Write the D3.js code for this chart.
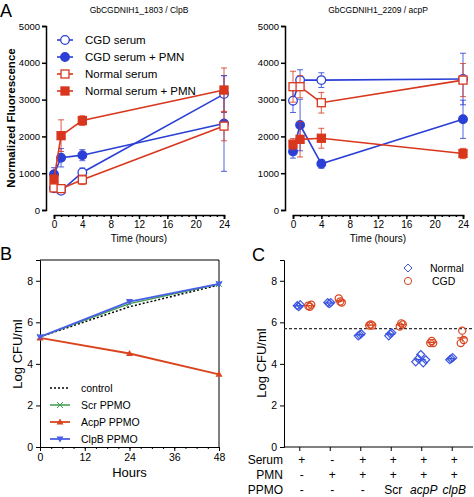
<!DOCTYPE html><html><head><meta charset="utf-8"><script src="https://cdn.jsdelivr.net/npm/d3@7"></script>
<style>body{margin:0;background:#fff}text{font-family:"Liberation Sans",Arial,sans-serif}</style></head><body>
<script>
const times=[0,1,4,24];
const aSeries=["CGD serum","CGD serum + PMN","Normal serum","Normal serum + PMN"];
const aLeft=[[590,520,1020,3150],[970,1420,1490,2350],[600,580,820,2280],[840,2020,2430,3260]];
const aLeftErr=[[80,60,120,500],[180,250,150,1300],[60,60,130,400],[100,430,130,600]];
const aRight=[[2970,3530,3530,3560],[1590,2310,1255,2465],[3350,3350,2915,3530],[1790,1920,1950,1535]];
const aRightErr=[[320,280,200,700],[180,700,120,520],[420,300,280,450],[150,480,270,140]];
const bHours=[0,24,48];
const bSeries=["control","Scr PPMO","AcpP PPMO","ClpB PPMO"];
const bValues=[[5.3,6.75,7.8],[5.3,6.9,7.85],[5.25,4.5,3.5],[5.3,7.0,7.85]];
const cGroups=["g1","g2","g3","g4","g5","g6"];
const cNormal=[[6.8,6.75,6.85],[6.95,6.9,6.95],[5.35,5.4,5.45],[5.35,5.45,5.5],[4.1,4.25,4.45,4.05,4.2],[4.2,4.25,4.3]];
const cCGD=[[6.8,6.75,6.85],[7.15,7.0,6.95],[5.85,5.9,5.85],[5.8,5.95,5.9],[5.0,5.1,5.0],[5.0,5.6,5.15]];
const cSerum=["+","-","+","+","+","+"],cPMN=["-","+","+","+","+","+"],cPPMO=["-","-","-","Scr","acpP","clpB"];
const cThreshold=5.7;

const svg=d3.select("body").append("svg").attr("width",474).attr("height",497);
const BLUE="#2a3fd6",RED="#d9361e";
const colA=[BLUE,BLUE,RED,RED],fillA=["#fff",BLUE,"#fff",RED],shapeA=["c","c","s","s"];

function panelA(x0,data,err,title,withLegend){
  const x=d3.scaleLinear().domain([0,24]).range([x0+8,x0+178]);
  const y=d3.scaleLinear().domain([0,5000]).range([210,26]);
  const g=svg.append("g");
  g.append("g").attr("transform",`translate(${x0},0)`).call(d3.axisLeft(y).tickValues([0,1000,2000,3000,4000,5000]).tickFormat(d3.format("d")).tickSize(4).tickPadding(2))
   .call(a=>a.selectAll("text").attr("font-size",9.5));
  g.append("g").attr("transform",`translate(0,215)`).call(d3.axisBottom(x).tickValues(d3.range(0,25,4)).tickSize(4).tickPadding(2))
   .call(a=>a.selectAll("text").attr("font-size",10));
  g.append("g").attr("transform",`translate(0,215)`).call(d3.axisBottom(x).tickValues(d3.range(0,25,1)).tickSize(2).tickFormat(""))
   .call(a=>a.select(".domain").remove());
  g.selectAll(".domain,.tick line").attr("stroke","#000").attr("stroke-width",1.5);
  g.append("text").attr("x",x(12)).attr("y",242).attr("text-anchor","middle").attr("font-size",10).text("Time (hours)");
  g.append("text").attr("x",x0+93).attr("y",13).attr("text-anchor","middle").attr("font-size",8.5).text(title);
  data.forEach((s,i)=>{
    const line=d3.line().x((d,j)=>x(times[j])).y(d=>y(d));
    s.forEach((v,j)=>{g.append("line").attr("x1",x(times[j])).attr("x2",x(times[j])).attr("y1",y(v-err[i][j])).attr("y2",y(v+err[i][j])).attr("stroke",colA[i]).attr("stroke-width",1).attr("opacity",.8);
      [v-err[i][j],v+err[i][j]].forEach(e=>g.append("line").attr("x1",x(times[j])-3).attr("x2",x(times[j])+3).attr("y1",y(e)).attr("y2",y(e)).attr("stroke",colA[i]).attr("opacity",.8));});
    g.append("path").attr("d",line(s)).attr("fill","none").attr("stroke",colA[i]).attr("stroke-width",1.6);
    s.forEach((v,j)=>marker(g,shapeA[i],x(times[j]),y(v),colA[i],fillA[i]));
  });
  if(withLegend){aSeries.forEach((n,i)=>{const yy=40+i*17;
    g.append("line").attr("x1",57).attr("x2",73).attr("y1",yy).attr("y2",yy).attr("stroke",colA[i]).attr("stroke-width",1.6);
    marker(g,shapeA[i],65,yy,colA[i],fillA[i]);
    g.append("text").attr("x",85).attr("y",yy+4).attr("font-size",11.5).text(n);});}
}
function marker(g,sh,cx,cy,c,f){
  if(sh=="c")g.append("circle").attr("cx",cx).attr("cy",cy).attr("r",4.3).attr("fill",f).attr("stroke",c).attr("stroke-width",1.3);
  else g.append("rect").attr("x",cx-4).attr("y",cy-4).attr("width",8).attr("height",8).attr("fill",f).attr("stroke",c).attr("stroke-width",1.3);
}
panelA(46,aLeft,aLeftErr,"GbCGDNIH1_1803 / ClpB",true);
panelA(285,aRight,aRightErr,"GbCGDNIH1_2209 / acpP",false);
svg.append("text").attr("x",0).attr("y",17).attr("font-size",18).text("A");
svg.append("text").attr("transform","translate(15,118) rotate(-90)").attr("text-anchor","middle").attr("font-size",11.5).attr("font-weight","bold").text("Normalized Fluorescence");

// B
{
  const x=d3.scaleLinear().domain([0,48]).range([40,219]);
  const y=d3.scaleLinear().domain([0,9]).range([447,260]);
  const g=svg.append("g");
  g.append("g").attr("transform","translate(40,0)").call(d3.axisLeft(y).tickValues([0,2,4,6,8]).tickSize(4)).call(a=>a.selectAll("text").attr("font-size",10.5));
  g.append("g").attr("transform","translate(0,447)").call(d3.axisBottom(x).tickValues([0,12,24,36,48]).tickSize(4)).call(a=>a.selectAll("text").attr("font-size",10.5));
  g.append("g").attr("transform","translate(0,447)").call(d3.axisBottom(x).tickValues(d3.range(0,49,3)).tickSize(2).tickFormat("")).call(a=>a.select(".domain").remove());
  g.append("line").attr("x1",219).attr("x2",219).attr("y1",447).attr("y2",260).attr("stroke","#000");
  g.append("line").attr("x1",40).attr("x2",219).attr("y1",260).attr("y2",260).attr("stroke","#000");
  g.selectAll(".domain,.tick line").attr("stroke","#000");
  const cols=["#000","#3a9a4a","#d9441e","#4a5fe8"],dash=["2,2",null,null,null],sw=[1.5,1.5,1.8,1.8];
  bValues.forEach((s,i)=>{
    g.append("path").attr("d",d3.line().x((d,j)=>x(bHours[j])).y(d=>y(d))(s)).attr("fill","none").attr("stroke",cols[i]).attr("stroke-width",sw[i]).attr("stroke-dasharray",dash[i]);
    s.forEach((v,j)=>bMark(g,i,x(bHours[j]),y(v),cols[i]));
  });
  function bMark(g,i,cx,cy,c){
    if(i==1)g.append("path").attr("d",`M${cx-3},${cy-3}L${cx+3},${cy+3}M${cx-3},${cy+3}L${cx+3},${cy-3}`).attr("stroke",c);
    if(i==2)g.append("path").attr("d",`M${cx},${cy-3.5}L${cx+3.5},${cy+2.5}L${cx-3.5},${cy+2.5}Z`).attr("fill",c);
    if(i==3)g.append("path").attr("d",`M${cx},${cy+3.5}L${cx+3.5},${cy-2.5}L${cx-3.5},${cy-2.5}Z`).attr("fill",c);
  }
  bSeries.forEach((n,i)=>{const yy=388+i*17;
    g.append("line").attr("x1",50).attr("x2",70).attr("y1",yy).attr("y2",yy).attr("stroke",cols[i]).attr("stroke-width",sw[i]).attr("stroke-dasharray",dash[i]);
    bMark(g,i,60,yy,cols[i]);
    g.append("text").attr("x",81).attr("y",yy+4).attr("font-size",10.5).text(n);});
  svg.append("text").attr("x",x(24)).attr("y",477).attr("text-anchor","middle").attr("font-size",13).text("Hours");
  svg.append("text").attr("transform","translate(22,354) rotate(-90)").attr("text-anchor","middle").attr("font-size",13).text("Log CFU/ml");
  svg.append("text").attr("x",0).attr("y",260).attr("font-size",18).text("B");
}
// C
{
  const xb=d3.scaleBand().domain(cGroups).range([287,473]).paddingOuter(0.05);
  const y=d3.scaleLinear().domain([0,9]).range([447,260]);
  const g=svg.append("g");
  g.append("g").attr("transform","translate(284,0)").call(d3.axisLeft(y).tickValues([0,2,4,6,8]).tickSize(4)).call(a=>a.selectAll("text").attr("font-size",10.5));
  g.append("line").attr("x1",284).attr("x2",473).attr("y1",447).attr("y2",447).attr("stroke","#000");
  cGroups.forEach(k=>g.append("line").attr("x1",xb(k)+xb.bandwidth()/2-4).attr("x2",xb(k)+xb.bandwidth()/2-4).attr("y1",447).attr("y2",451).attr("stroke","#000"));
  g.selectAll(".domain,.tick line").attr("stroke","#000");
  g.append("line").attr("x1",284).attr("x2",473).attr("y1",y(cThreshold)).attr("y2",y(cThreshold)).attr("stroke","#333").attr("stroke-dasharray","3,2").attr("stroke-width",1.2);
  const CB="#3c55e0",CR="#d9441e";
  cGroups.forEach((k,gi)=>{
    const bx=xb(k)+xb.bandwidth()/2-5,rx=xb(k)+xb.bandwidth()/2+6;
    [[cNormal[gi],bx,CB,"d"],[cCGD[gi],rx,CR,"o"]].forEach(([vals,cx,c,sh])=>{
      const m=d3.mean(vals),sd=d3.deviation(vals)/Math.sqrt(vals.length);
      g.append("line").attr("x1",cx-5).attr("x2",cx+5).attr("y1",y(m)).attr("y2",y(m)).attr("stroke",c).attr("stroke-width",1.3);
      g.append("line").attr("x1",cx).attr("x2",cx).attr("y1",y(m-sd)).attr("y2",y(m+sd)).attr("stroke",c);
      vals.forEach((v,j)=>{const jx=cx+(vals.length>3?(j-2)*2.5:(j-1)*1.5);
        if(sh=="d")g.append("path").attr("d",`M${jx},${y(v)-4}L${jx+4},${y(v)}L${jx},${y(v)+4}L${jx-4},${y(v)}Z`).attr("fill","none").attr("stroke",c).attr("stroke-width",1.2);
        else g.append("circle").attr("cx",jx).attr("cy",y(v)).attr("r",3.6).attr("fill","none").attr("stroke",c).attr("stroke-width",1.2);});
    });
    [cSerum,cPMN,cPPMO].forEach((row,ri)=>{
      const t=g.append("text").attr("x",xb(k)+xb.bandwidth()/2-2).attr("y",464+ri*15).attr("text-anchor","middle").attr("font-size",12).text(row[gi]);
      if(gi>=4&&ri==2)t.attr("font-style","italic");
    });
  });
  ["Serum","PMN","PPMO"].forEach((n,i)=>g.append("text").attr("x",283).attr("y",464+i*15).attr("text-anchor","end").attr("font-size",12).text(n));
  g.append("path").attr("d","M408,264L412,268L408,272L404,268Z").attr("fill","none").attr("stroke",CB);
  g.append("circle").attr("cx",408).attr("cy",281).attr("r",3.6).attr("fill","none").attr("stroke",CR);
  g.append("text").attr("x",430).attr("y",272).attr("font-size",10.5).text("Normal");
  g.append("text").attr("x",432).attr("y",285).attr("font-size",10.5).text("CGD");
  svg.append("text").attr("transform","translate(266,363) rotate(-90)").attr("text-anchor","middle").attr("font-size",13).text("Log CFU/ml");
  svg.append("text").attr("x",252).attr("y",261).attr("font-size",18).text("C");
}
</script></body></html>
